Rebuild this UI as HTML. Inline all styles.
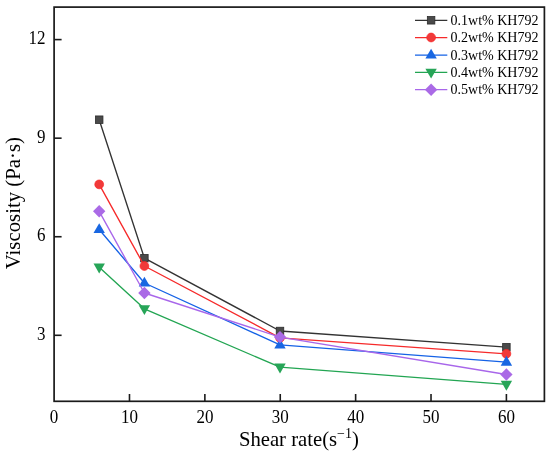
<!DOCTYPE html>
<html><head><meta charset="utf-8"><title>Viscosity vs shear rate</title>
<style>html,body{margin:0;padding:0;background:#fff}svg{display:block}text{font-family:"Liberation Serif","Times New Roman",serif;fill:#000}</style></head><body>
<svg width="550" height="454" viewBox="0 0 550 454">
<rect width="550" height="454" fill="#fff"/>
<polyline points="99.20,119.70 144.40,258.20 280.00,331.00 506.40,347.20" fill="none" stroke="#333333" stroke-width="1.35" stroke-linejoin="round"/>
<rect x="95.45" y="115.95" width="7.5" height="7.5" fill="#4a4a4a" stroke="#2c2c2c" stroke-width="0.8"/>
<rect x="140.65" y="254.45" width="7.5" height="7.5" fill="#4a4a4a" stroke="#2c2c2c" stroke-width="0.8"/>
<rect x="276.25" y="327.25" width="7.5" height="7.5" fill="#4a4a4a" stroke="#2c2c2c" stroke-width="0.8"/>
<rect x="502.65" y="343.45" width="7.5" height="7.5" fill="#4a4a4a" stroke="#2c2c2c" stroke-width="0.8"/>
<polyline points="99.20,184.40 144.40,266.00 280.00,337.80 506.40,353.80" fill="none" stroke="#f62a2a" stroke-width="1.35" stroke-linejoin="round"/>
<circle cx="99.20" cy="184.40" r="4.4" fill="#f03a3a" stroke="#fb2424" stroke-width="0.7"/>
<circle cx="144.40" cy="266.00" r="4.4" fill="#f03a3a" stroke="#fb2424" stroke-width="0.7"/>
<circle cx="280.00" cy="337.80" r="4.4" fill="#f03a3a" stroke="#fb2424" stroke-width="0.7"/>
<circle cx="506.40" cy="353.80" r="4.4" fill="#f03a3a" stroke="#fb2424" stroke-width="0.7"/>
<polyline points="99.20,229.50 144.40,283.00 280.00,344.90 506.40,362.10" fill="none" stroke="#1562e6" stroke-width="1.35" stroke-linejoin="round"/>
<polygon points="99.20,223.20 104.90,233.10 93.50,233.10" fill="#1967e2"/>
<polygon points="144.40,276.70 150.10,286.60 138.70,286.60" fill="#1967e2"/>
<polygon points="280.00,338.60 285.70,348.50 274.30,348.50" fill="#1967e2"/>
<polygon points="506.40,355.80 512.10,365.70 500.70,365.70" fill="#1967e2"/>
<polyline points="99.20,267.20 144.40,308.80 280.00,367.20 506.40,384.40" fill="none" stroke="#22a552" stroke-width="1.35" stroke-linejoin="round"/>
<polygon points="99.20,273.50 104.90,263.60 93.50,263.60" fill="#27a558"/>
<polygon points="144.40,315.10 150.10,305.20 138.70,305.20" fill="#27a558"/>
<polygon points="280.00,373.50 285.70,363.60 274.30,363.60" fill="#27a558"/>
<polygon points="506.40,390.70 512.10,380.80 500.70,380.80" fill="#27a558"/>
<polyline points="99.20,211.30 144.40,293.00 280.00,337.10 506.40,374.50" fill="none" stroke="#a866ea" stroke-width="1.35" stroke-linejoin="round"/>
<polygon points="99.20,205.10 105.40,211.30 99.20,217.50 93.00,211.30" fill="#aa6ae6"/>
<polygon points="144.40,286.80 150.60,293.00 144.40,299.20 138.20,293.00" fill="#aa6ae6"/>
<polygon points="280.00,330.90 286.20,337.10 280.00,343.30 273.80,337.10" fill="#aa6ae6"/>
<polygon points="506.40,368.30 512.60,374.50 506.40,380.70 500.20,374.50" fill="#aa6ae6"/>
<rect x="54.1" y="7.1" width="490.30" height="394.20" fill="none" stroke="#1a1a1a" stroke-width="1.7"/>
<line x1="129.48" y1="401.3" x2="129.48" y2="394.0" stroke="#1a1a1a" stroke-width="1.6"/>
<line x1="204.87" y1="401.3" x2="204.87" y2="394.0" stroke="#1a1a1a" stroke-width="1.6"/>
<line x1="280.25" y1="401.3" x2="280.25" y2="394.0" stroke="#1a1a1a" stroke-width="1.6"/>
<line x1="355.63" y1="401.3" x2="355.63" y2="394.0" stroke="#1a1a1a" stroke-width="1.6"/>
<line x1="431.02" y1="401.3" x2="431.02" y2="394.0" stroke="#1a1a1a" stroke-width="1.6"/>
<line x1="506.40" y1="401.3" x2="506.40" y2="394.0" stroke="#1a1a1a" stroke-width="1.6"/>
<text transform="translate(54.10,422.5) scale(1,1.05)" font-size="17" text-anchor="middle">0</text>
<text transform="translate(129.48,422.5) scale(1,1.05)" font-size="17" text-anchor="middle">10</text>
<text transform="translate(204.87,422.5) scale(1,1.05)" font-size="17" text-anchor="middle">20</text>
<text transform="translate(280.25,422.5) scale(1,1.05)" font-size="17" text-anchor="middle">30</text>
<text transform="translate(355.63,422.5) scale(1,1.05)" font-size="17" text-anchor="middle">40</text>
<text transform="translate(431.02,422.5) scale(1,1.05)" font-size="17" text-anchor="middle">50</text>
<text transform="translate(506.40,422.5) scale(1,1.05)" font-size="17" text-anchor="middle">60</text>
<line x1="54.1" y1="335.30" x2="61.6" y2="335.30" stroke="#1a1a1a" stroke-width="1.6"/>
<text transform="translate(45.4,339.90) scale(1,1.05)" font-size="17" text-anchor="end">3</text>
<line x1="54.1" y1="236.73" x2="61.6" y2="236.73" stroke="#1a1a1a" stroke-width="1.6"/>
<text transform="translate(45.4,241.33) scale(1,1.05)" font-size="17" text-anchor="end">6</text>
<line x1="54.1" y1="138.17" x2="61.6" y2="138.17" stroke="#1a1a1a" stroke-width="1.6"/>
<text transform="translate(45.4,142.77) scale(1,1.05)" font-size="17" text-anchor="end">9</text>
<line x1="54.1" y1="39.60" x2="61.6" y2="39.60" stroke="#1a1a1a" stroke-width="1.6"/>
<text transform="translate(45.4,44.20) scale(1,1.05)" font-size="17" text-anchor="end">12</text>
<text x="238.9" y="445.7" font-size="20.7">Shear rate(s<tspan font-size="14" dy="-8">−1</tspan><tspan dy="8">)</tspan></text>
<text transform="translate(19.9,203.1) rotate(-90)" font-size="20.8" text-anchor="middle">Viscosity (Pa·s)</text>
<line x1="415" y1="20.3" x2="447.3" y2="20.3" stroke="#333333" stroke-width="1.25"/>
<rect x="427.35" y="16.55" width="7.5" height="7.5" fill="#4a4a4a" stroke="#2c2c2c" stroke-width="0.8"/>
<text x="450.6" y="25.00" font-size="14">0.1wt% KH792</text>
<line x1="415" y1="37.5" x2="447.3" y2="37.5" stroke="#f62a2a" stroke-width="1.25"/>
<circle cx="431.10" cy="37.50" r="4.4" fill="#f03a3a" stroke="#fb2424" stroke-width="0.7"/>
<text x="450.6" y="42.20" font-size="14">0.2wt% KH792</text>
<line x1="415" y1="55.0" x2="447.3" y2="55.0" stroke="#1562e6" stroke-width="1.25"/>
<polygon points="431.10,48.70 436.80,58.60 425.40,58.60" fill="#1967e2"/>
<text x="450.6" y="59.70" font-size="14">0.3wt% KH792</text>
<line x1="415" y1="72.3" x2="447.3" y2="72.3" stroke="#22a552" stroke-width="1.25"/>
<polygon points="431.10,78.60 436.80,68.70 425.40,68.70" fill="#27a558"/>
<text x="450.6" y="77.00" font-size="14">0.4wt% KH792</text>
<line x1="415" y1="89.7" x2="447.3" y2="89.7" stroke="#a866ea" stroke-width="1.25"/>
<polygon points="431.10,83.50 437.30,89.70 431.10,95.90 424.90,89.70" fill="#aa6ae6"/>
<text x="450.6" y="94.40" font-size="14">0.5wt% KH792</text>
</svg></body></html>
